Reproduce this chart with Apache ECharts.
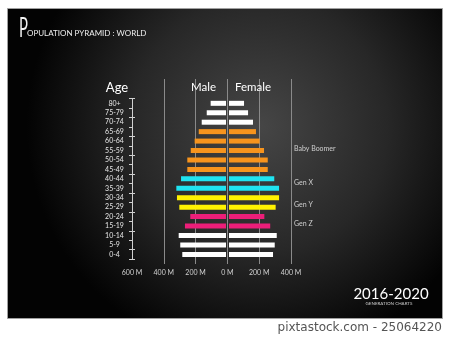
<!DOCTYPE html>
<html><head><meta charset="utf-8">
<script src="https://cdn.jsdelivr.net/npm/echarts@6/dist/echarts.min.js"></script>
<style>html,body{margin:0;padding:0;background:#fff}#c{width:450px;height:346px}</style>
</head><body><div id="c"></div>
<script>
// ---- data ----
const ageGroups = ['80+','75-79','70-74','65-69','60-64','55-59','50-54','45-49','40-44','35-39','30-34','25-29','20-24','15-19','10-14','5-9','0-4'];
const maleValues = [98,123,155,174,200,225,247,247,287,317,313,298,228,262,302,292,279];
const femaleValues = [97,123,155,174,198,226,250,250,292,323,323,301,228,266,308,295,284];
const generations = ['Older','Older','Older','Baby Boomer','Baby Boomer','Baby Boomer','Baby Boomer','Baby Boomer','Gen X','Gen X','Gen Y','Gen Y','Gen Z','Gen Z','Young','Young','Young'];
const scaleTicks = [-600,-400,-200,0,200,400];
const generationLabels = ['Baby Boomer','Gen X','Gen Y','Gen Z'];

// ---- styles ----
const genColors = {'Older':'#ffffff','Baby Boomer':'#f7941d','Gen X':'#1fe3f0','Gen Y':'#fff200','Gen Z':'#ec1e79','Young':'#ffffff'};
const genLabelY = [149, 182.5, 204.5, 224];
const FONT = 'Lato, "Open Sans", sans-serif';

const chart = echarts.init(document.getElementById('c'), null, {renderer:'canvas'});

function txt(text, x, y, size, fill, align, extra) {
  return Object.assign({
    type:'text', x:x, y:y, z:5,
    style:{text:text, x:0, y:0, fill:fill, font: size + 'px ' + FONT, align:align||'left', textAlign:align||'left', verticalAlign:'middle', textVerticalAlign:'middle'}
  }, extra||{});
}

const graphics = [
  {type:'rect', z:-10, shape:{x:7.5,y:8.5,width:435,height:310},
   style:{fill:{type:'radial', x:0.58, y:0.38, r:0.75, colorStops:[{offset:0,color:'#464646'},{offset:0.55,color:'#272727'},{offset:1,color:'#030303'}]}, stroke:'#a0a0a0', lineWidth:1}},
  txt('P', 19, 28.5, 27, '#f2f2f2', 'left', {scaleX:0.55}),
  txt('OPULATION PYRAMID : WORLD', 27, 33, 8, '#eeeeee'),
  txt('Age', 117, 87.5, 13, '#ffffff', 'center'),
  txt('Male', 203.5, 87.5, 11.5, '#ffffff', 'center'),
  txt('Female', 253, 87.5, 11.5, '#ffffff', 'center'),
  txt('2016-2020', 391, 294, 15, '#ffffff', 'center'),
  txt('GENERATION CHARTS', 389, 303.5, 4.5, '#cccccc', 'center'),
  {type:'text', x:442, y:328, z:5, style:{text:'pixtastock.com - 25064220', x:0, y:0, fill:'#555', font:'12px "DejaVu Sans", sans-serif', align:'right', textAlign:'right', verticalAlign:'middle', textVerticalAlign:'middle'}}
];
generationLabels.forEach((g,i)=>graphics.push(txt(g, 294, genLabelY[i], 7, '#cfcfcf')));

const option = {
  backgroundColor:'#ffffff',
  animation:false,
  graphic: graphics,
  grid:[
    {left:132, width:159, top:79, height:185},
    {left:132, width:94, top:98.6, height:160.5},
    {left:229, width:62, top:98.6, height:160.5}
  ],
  xAxis:[
    {gridIndex:0, type:'value', min:scaleTicks[0], max:scaleTicks[scaleTicks.length-1], interval:200,
     axisLine:{show:false}, axisTick:{show:false},
     axisLabel:{color:'#d0d0d0', fontSize:7, fontFamily:FONT, margin:5, formatter:v=>Math.abs(v)+' M'},
     splitLine:{show:true, lineStyle:{color:['rgba(0,0,0,0)','#8a8a8a','#8a8a8a','#8a8a8a','#8a8a8a','#8a8a8a'], width:1}}},
    {gridIndex:1, type:'value', min:0, max:600, inverse:true, show:false},
    {gridIndex:2, type:'value', min:0, max:400, show:false}
  ],
  yAxis:[
    {gridIndex:0, type:'value', show:false},
    {gridIndex:1, type:'category', data:ageGroups, inverse:true, position:'left',
     axisLine:{show:true, onZero:false, lineStyle:{color:'#d0d0d0', width:1}},
     axisTick:{show:true, length:3, lineStyle:{color:'#d0d0d0'}},
     axisLabel:{color:'#e6e6e6', fontSize:7, fontFamily:FONT, margin:17.5, align:'center'},
     splitLine:{show:false}},
    {gridIndex:1, type:'category', data:ageGroups, inverse:true, position:'left',
     axisLine:{show:false, onZero:false}, axisTick:{show:true, inside:true, length:3, lineStyle:{color:'#d0d0d0'}},
     axisLabel:{show:false}, splitLine:{show:false}},
    {gridIndex:2, type:'category', data:ageGroups, inverse:true, show:false}
  ],
  series:[
    {type:'bar', name:'Male', xAxisIndex:1, yAxisIndex:1, barWidth:5,
     data: maleValues.map((v,i)=>({value:v, itemStyle:{color:genColors[generations[i]]}}))},
    {type:'bar', name:'Female', xAxisIndex:2, yAxisIndex:3, barWidth:5,
     data: femaleValues.map((v,i)=>({value:v, itemStyle:{color:genColors[generations[i]]}}))}
  ]
};
chart.setOption(option);
</script>
</body></html>
